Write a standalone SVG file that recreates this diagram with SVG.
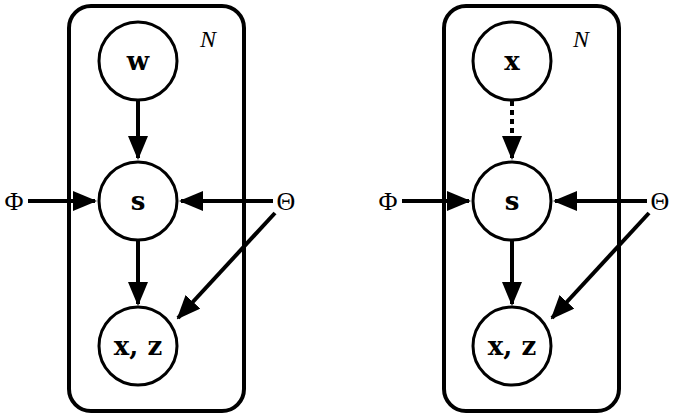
<svg xmlns="http://www.w3.org/2000/svg" width="674" height="419" viewBox="0 0 674 419">
<style>
.plate{fill:none;stroke:#000;stroke-width:4}
.node{fill:#fff;stroke:#000;stroke-width:3}
.lbl{font-family:"DejaVu Serif","Liberation Serif",serif;font-weight:bold;font-size:26px;text-anchor:middle}
.sym{font-family:"Liberation Serif",serif;font-size:26px;text-anchor:middle}
.n{font-family:"Liberation Serif",serif;font-style:italic;font-size:24px}
.e{stroke:#000;stroke-width:4;fill:none;marker-end:url(#ah)}
</style>
<defs><marker id="ah" markerWidth="6" markerHeight="5" refX="5.5" refY="2.5" orient="auto" markerUnits="strokeWidth"><path d="M0,0L6,2.5L0,5z" fill="#000"/></marker></defs>
<g id="plate1"><rect class="plate" x="69" y="6" width="175" height="405" rx="22"/><text class="n" x="200" y="47">N</text></g>
<g id="plate2"><rect class="plate" x="444" y="6" width="175" height="405" rx="22"/><text class="n" x="573" y="47">N</text></g>
<g id="connectors">
<line class="e" x1="138" y1="101" x2="138" y2="158"/>
<line class="e" x1="138" y1="241" x2="138" y2="304"/>
<line class="e" x1="28" y1="201" x2="95" y2="201"/>
<line class="e" x1="273" y1="201" x2="181" y2="201"/>
<line class="e" x1="275" y1="213" x2="178" y2="318"/>
<line class="e" x1="512" y1="101" x2="512" y2="158" stroke-dasharray="5,4"/>
<line class="e" x1="512" y1="241" x2="512" y2="304"/>
<line class="e" x1="402" y1="201" x2="469" y2="201"/>
<line class="e" x1="647" y1="201" x2="555" y2="201"/>
<line class="e" x1="649" y1="213" x2="552" y2="318"/>
</g>
<g id="w"><circle class="node" cx="138" cy="61" r="39"/><text class="lbl" x="138" y="70">w</text></g>
<g id="s1"><circle class="node" cx="138" cy="201" r="39"/><text class="lbl" x="138" y="210">s</text></g>
<g id="xz1"><circle class="node" cx="138" cy="346" r="39"/><text class="lbl" x="138" y="355">x, z</text></g>
<g id="phi1"><text class="sym" x="14" y="210">Φ</text></g>
<g id="theta1"><text class="sym" x="286" y="210">Θ</text></g>
<g id="x"><circle class="node" cx="512" cy="61" r="39"/><text class="lbl" x="512" y="70">x</text></g>
<g id="s2"><circle class="node" cx="512" cy="201" r="39"/><text class="lbl" x="512" y="210">s</text></g>
<g id="xz2"><circle class="node" cx="512" cy="346" r="39"/><text class="lbl" x="512" y="355">x, z</text></g>
<g id="phi2"><text class="sym" x="388" y="210">Φ</text></g>
<g id="theta2"><text class="sym" x="660" y="210">Θ</text></g>
</svg>
